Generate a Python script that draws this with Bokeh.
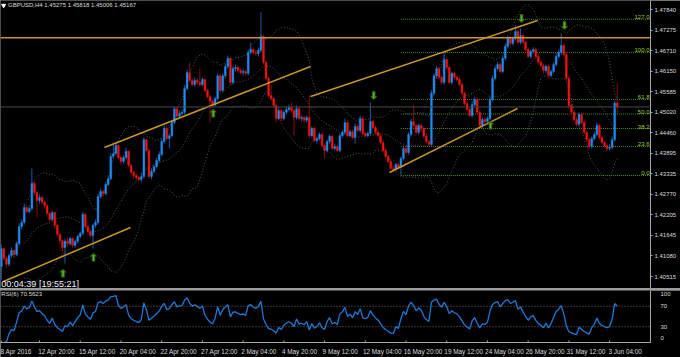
import numpy as np
import pandas as pd
from bokeh.plotting import figure
from bokeh.models import (Range1d, ColumnDataSource, FixedTicker, NumeralTickFormatter,
                          Label, Span)
from bokeh.layouts import column
from bokeh.embed import file_html
from bokeh.resources import INLINE
from bokeh.core.properties import value

# ---------------- data ----------------
symbol_title = "GBPUSD,H4  1.45275 1.45818 1.45006 1.45167"
rsi_title = "RSI(6) 70.5623"
timer_text = "00:04:39 [19:55:21]"

first_open = 1.4079
closes = [
    1.4128, 1.4101, 1.4085, 1.4109, 1.4123, 1.4112, 1.4142, 1.4189, 1.4200, 1.4241,
    1.4230, 1.4238, 1.4307, 1.4282, 1.4260, 1.4268, 1.4255, 1.4246, 1.4225, 1.4208,
    1.4227, 1.4192, 1.4167, 1.4150, 1.4131, 1.4148, 1.4142, 1.4156, 1.4137, 1.4148,
    1.4161, 1.4170, 1.4222, 1.4189, 1.4175, 1.4164, 1.4192, 1.4200, 1.4271, 1.4285,
    1.4279, 1.4304, 1.4320, 1.4381, 1.4389, 1.4411, 1.4378, 1.4367, 1.4378, 1.4395,
    1.4356, 1.4337, 1.4329, 1.4323, 1.4318, 1.4326, 1.4427, 1.4397, 1.4326, 1.4340,
    1.4353, 1.4370, 1.4386, 1.4422, 1.4458, 1.4430, 1.4438, 1.4474, 1.4512, 1.4491,
    1.4499, 1.4502, 1.4567, 1.4611, 1.4589, 1.4578, 1.4589, 1.4584, 1.4578, 1.4592,
    1.4562, 1.4545, 1.4532, 1.4523, 1.4540, 1.4602, 1.4562, 1.4602, 1.4628, 1.4650,
    1.4584, 1.4622, 1.4625, 1.4617, 1.4611, 1.4614, 1.4609, 1.4666, 1.4674, 1.4666,
    1.4663, 1.4672, 1.4710, 1.4639, 1.4595, 1.4548, 1.4540, 1.4521, 1.4485, 1.4507,
    1.4485, 1.4502, 1.4510, 1.4515, 1.4507, 1.4488, 1.4512, 1.4485, 1.4488, 1.4480,
    1.4488, 1.4438, 1.4458, 1.4425, 1.4430, 1.4441, 1.4411, 1.4397, 1.4422, 1.4436,
    1.4403, 1.4408, 1.4397, 1.4438, 1.4447, 1.4474, 1.4438, 1.4449, 1.4433, 1.4463,
    1.4452, 1.4485, 1.4444, 1.4438, 1.4444, 1.4477, 1.4460, 1.4447, 1.4438, 1.4419,
    1.4397, 1.4381, 1.4367, 1.4348, 1.4345, 1.4359, 1.4351, 1.4375, 1.4403, 1.4392,
    1.4441, 1.4477, 1.4466, 1.4447, 1.4466, 1.4458, 1.4436, 1.4422, 1.4414, 1.4554,
    1.4602, 1.4622, 1.4598, 1.4584, 1.4647, 1.4625, 1.4584, 1.4609, 1.4598, 1.4592,
    1.4578, 1.4554, 1.4526, 1.4510, 1.4493, 1.4523, 1.4537, 1.4502, 1.4466, 1.4482,
    1.4477, 1.4485, 1.4537, 1.4595, 1.4622, 1.4633, 1.4614, 1.4650, 1.4683, 1.4705,
    1.4691, 1.4705, 1.4724, 1.4694, 1.4713, 1.4694, 1.4674, 1.4655, 1.4669, 1.4674,
    1.4655, 1.4639, 1.4630, 1.4617, 1.4628, 1.4603, 1.4614, 1.4633, 1.4655, 1.4666,
    1.4685, 1.4661, 1.4595, 1.4521, 1.4502, 1.4482, 1.4469, 1.4496, 1.4474, 1.4447,
    1.4427, 1.4408, 1.4430, 1.4441, 1.4466, 1.4433, 1.4419, 1.4411, 1.4403, 1.4406,
    1.4427, 1.45275, 1.45167,
]
highs = [
    1.4139, 1.4131, 1.4107, 1.4115, 1.4131, 1.4126, 1.4148, 1.4197, 1.4208, 1.4252,
    1.4246, 1.4246, 1.4348, 1.4312, 1.4288, 1.4277, 1.4274, 1.4260, 1.4252, 1.4230,
    1.4233, 1.4230, 1.4194, 1.4172, 1.4153, 1.4156, 1.4159, 1.4161, 1.4159, 1.4153,
    1.4167, 1.4175, 1.4230, 1.4227, 1.4194, 1.4181, 1.4197, 1.4208, 1.4279, 1.4293,
    1.4290, 1.4310, 1.4329, 1.4389, 1.4419, 1.4419, 1.4414, 1.4384, 1.4384, 1.4406,
    1.4397, 1.4362, 1.4342, 1.4334, 1.4329, 1.4337, 1.4433, 1.4430, 1.4403, 1.4348,
    1.4359, 1.4378, 1.4395, 1.4430, 1.4466, 1.4463, 1.4444, 1.4480, 1.4518, 1.4515,
    1.4507, 1.4510, 1.4576, 1.4619, 1.4639, 1.4595, 1.4598, 1.4595, 1.4622, 1.4598,
    1.4595, 1.4567, 1.4551, 1.4537, 1.4545, 1.4609, 1.4606, 1.4609, 1.4636, 1.4658,
    1.4652, 1.4628, 1.4633, 1.4630, 1.4622, 1.4622, 1.4619, 1.4674, 1.4694, 1.4680,
    1.4674, 1.4680, 1.4776, 1.4715, 1.4644, 1.4600, 1.4576, 1.4545, 1.4526, 1.4515,
    1.4512, 1.4507, 1.4518, 1.4523, 1.4529, 1.4512, 1.4521, 1.4518, 1.4493, 1.4493,
    1.4493, 1.4548, 1.4463, 1.4463, 1.4436, 1.4447, 1.4447, 1.4416, 1.4427, 1.4441,
    1.4441, 1.4416, 1.4414, 1.4444, 1.4452, 1.4485, 1.4480, 1.4455, 1.4455, 1.4471,
    1.4469, 1.4493, 1.4491, 1.4449, 1.4449, 1.4529, 1.4482, 1.4466, 1.4452, 1.4444,
    1.4425, 1.4403, 1.4386, 1.4373, 1.4356, 1.4364, 1.4364, 1.4381, 1.4408, 1.4411,
    1.4447, 1.4485, 1.4521, 1.4471, 1.4471, 1.4471, 1.4463, 1.4444, 1.4427, 1.4562,
    1.4609, 1.4630, 1.4628, 1.4603, 1.4666, 1.4652, 1.4630, 1.4614, 1.4614, 1.4603,
    1.4598, 1.4584, 1.4559, 1.4532, 1.4515, 1.4532, 1.4545, 1.4543, 1.4507, 1.4488,
    1.4488, 1.4491, 1.4545, 1.4603, 1.4630, 1.4641, 1.4639, 1.4658, 1.4691, 1.4713,
    1.4710, 1.4710, 1.4740, 1.4729, 1.4732, 1.4718, 1.4699, 1.4680, 1.4674, 1.4680,
    1.4680, 1.4661, 1.4644, 1.4636, 1.4633, 1.4633, 1.4619, 1.4639, 1.4663, 1.4674,
    1.4718, 1.4691, 1.4666, 1.4600, 1.4526, 1.4507, 1.4488, 1.4502, 1.4502, 1.4480,
    1.4452, 1.4433, 1.4436, 1.4449, 1.4474, 1.4471, 1.4438, 1.4425, 1.4416, 1.4414,
    1.4436, 1.4534, 1.45818,
]
lows = [
    1.4043, 1.4096, 1.4074, 1.4079, 1.4104, 1.4104, 1.4107, 1.4137, 1.4181, 1.4194,
    1.4225, 1.4225, 1.4233, 1.4274, 1.4214, 1.4252, 1.4249, 1.4238, 1.4219, 1.4200,
    1.4203, 1.4183, 1.4161, 1.4142, 1.4118, 1.4087, 1.4134, 1.4137, 1.4131, 1.4131,
    1.4142, 1.4156, 1.4164, 1.4183, 1.4170, 1.4159, 1.4128, 1.4186, 1.4194, 1.4266,
    1.4271, 1.4274, 1.4299, 1.4315, 1.4375, 1.4384, 1.4373, 1.4359, 1.4362, 1.4373,
    1.4351, 1.4331, 1.4320, 1.4315, 1.4312, 1.4310, 1.4320, 1.4392, 1.4320, 1.4318,
    1.4334, 1.4348, 1.4364, 1.4381, 1.4416, 1.4425, 1.4403, 1.4433, 1.4469, 1.4485,
    1.4485, 1.4493, 1.4496, 1.4562, 1.4584, 1.4573, 1.4573, 1.4578, 1.4573, 1.4573,
    1.4556, 1.4540, 1.4474, 1.4518, 1.4518, 1.4534, 1.4556, 1.4556, 1.4595, 1.4622,
    1.4578, 1.4578, 1.4614, 1.4611, 1.4606, 1.4603, 1.4603, 1.4603, 1.4661, 1.4661,
    1.4658, 1.4655, 1.4666, 1.4633, 1.4589, 1.4543, 1.4534, 1.4515, 1.4474, 1.4480,
    1.4477, 1.4480, 1.4496, 1.4504, 1.4502, 1.4439, 1.4482, 1.4480, 1.4477, 1.4474,
    1.4474, 1.4430, 1.4433, 1.4419, 1.4416, 1.4425, 1.4406, 1.4375, 1.4392, 1.4416,
    1.4397, 1.4397, 1.4392, 1.4392, 1.4433, 1.4441, 1.4433, 1.4433, 1.4427, 1.4416,
    1.4447, 1.4447, 1.4438, 1.4433, 1.4433, 1.4438, 1.4455, 1.4441, 1.4433, 1.4414,
    1.4392, 1.4375, 1.4362, 1.4342, 1.4337, 1.4340, 1.4345, 1.4329, 1.4370, 1.4386,
    1.4386, 1.4436, 1.4460, 1.4441, 1.4441, 1.4449, 1.4430, 1.4416, 1.4408, 1.4408,
    1.4548, 1.4595, 1.4592, 1.4578, 1.4578, 1.4619, 1.4578, 1.4578, 1.4592, 1.4587,
    1.4573, 1.4548, 1.4521, 1.4504, 1.4488, 1.4488, 1.4518, 1.4496, 1.4458, 1.4460,
    1.4471, 1.4469, 1.4480, 1.4532, 1.4589, 1.4617, 1.4609, 1.4609, 1.4644, 1.4677,
    1.4685, 1.4685, 1.4699, 1.4688, 1.4688, 1.4688, 1.4669, 1.4650, 1.4650, 1.4663,
    1.4650, 1.4633, 1.4625, 1.4609, 1.4609, 1.4598, 1.4598, 1.4609, 1.4628, 1.4650,
    1.4661, 1.4655, 1.4589, 1.4512, 1.4496, 1.4477, 1.4463, 1.4463, 1.4469, 1.4441,
    1.4422, 1.4403, 1.4403, 1.4425, 1.4436, 1.4427, 1.4414, 1.4406, 1.4395, 1.4397,
    1.4400, 1.4422, 1.45006,
]

date_bars = [1, 16, 32, 48, 64, 80, 96, 112, 128, 144, 160, 176, 192, 208, 224, 240]
date_labels = ["8 Apr 2016", "12 Apr 20:00", "15 Apr 12:00", "20 Apr 04:00",
               "22 Apr 20:00", "27 Apr 12:00", "2 May 04:00", "4 May 20:00",
               "9 May 12:00", "12 May 04:00", "16 May 20:00", "19 May 12:00",
               "24 May 04:00", "26 May 20:00", "31 May 12:00", "3 Jun 04:00"]
price_ticks = [1.40515, 1.41080, 1.41645, 1.42205, 1.42770, 1.43335, 1.43895,
               1.44460, 1.45020, 1.45585, 1.46150, 1.46710, 1.47275, 1.47840]
rsi_period = 6
rsi_levels = [30, 70]
rsi_tick_pos = [8, 30, 70, 94]
rsi_tick_text = ["0", "30", "70", "100"]

resistance_price = 1.47066
bid_price = 1.45167

fib_ratios = [0.0, 23.6, 38.2, 50.0, 61.8, 100.0, 127.0]
fib_start_bar, fib_low = 158, 1.43287
fib_end_bar, fib_high = 175, 1.46661

trend_x0 = [1.85, 41.5, 122.5, 153.5]
trend_y0 = [1.4038, 1.44055, 1.45454, 1.43369]
trend_x1 = [51.75, 122.5, 211.7, 203.8]
trend_y1 = [1.4186, 1.46277, 1.47538, 1.45125]

up_arrow_bar = [25.2, 37.2, 84.2, 193.2]
up_arrow_price = [1.40600, 1.41030, 1.44987, 1.44658]
down_arrow_bar = [147.3, 205.4, 222.3]
down_arrow_price = [1.45481, 1.47593, 1.47401]

view_start, view_end = 0.668, 256.07
px_per_bar = 2.545          # horizontal scale of the chart (pixels per bar)
date_char_px = 2.75         # approx. width of one date-label character

# ---------------- derived ----------------
df = pd.DataFrame({"bar": np.arange(1, len(closes) + 1), "close": closes,
                   "high": highs, "low": lows})
df["open"] = [first_open] + closes[:-1]
df["top"] = df[["open", "close"]].max(axis=1)
df["bottom"] = df[["open", "close"]].min(axis=1)
up = df["close"] >= df["open"]
df["body"] = np.where(up, "#1e8cf0", "#f01414")
df["wick"] = np.where(up, "#1a5aa6", "#8c0c0c")

mid = df["close"].rolling(20, min_periods=10).mean()
sd = df["close"].rolling(20, min_periods=10).std(ddof=0)
df["bb_mid"], df["bb_up"], df["bb_lo"] = mid, mid + 2 * sd, mid - 2 * sd

delta = df["close"].diff()
gain = delta.clip(lower=0)
loss = (-delta).clip(lower=0)
ag = gain.ewm(alpha=1 / rsi_period, adjust=False).mean()
al = loss.ewm(alpha=1 / rsi_period, adjust=False).mean()
df["rsi"] = 100 - 100 / (1 + ag / al)

src = ColumnDataSource(df)

FONT = "Liberation Sans"
TXT = "#dcdcdc"
AXIS = "#a8a8a8"
GOLD = "#c8962c"

# ---------------- main chart ----------------
p = figure(width=680, height=288, x_range=Range1d(view_start, view_end),
           y_range=Range1d(1.40187, 1.48087), output_backend="svg",
           toolbar_location=None, x_axis_location=None, y_axis_location="right",
           min_border_left=0, min_border_right=30, min_border_top=0, min_border_bottom=0,
           background_fill_color="black", border_fill_color="black",
           outline_line_color=None)
p.grid.visible = False
ya = p.yaxis[0]
ya.ticker = FixedTicker(ticks=price_ticks)
ya.formatter = NumeralTickFormatter(format="0.00000")
ya.major_label_text_font = FONT
ya.major_label_text_font_size = "6px"
ya.major_label_text_color = TXT
ya.axis_line_color = AXIS
ya.major_tick_line_color = AXIS
ya.major_tick_out = 2
ya.major_tick_in = 0
ya.minor_tick_line_color = None
ya.major_label_standoff = 2

# Bollinger bands
for col in ["bb_up", "bb_mid", "bb_lo"]:
    p.line("bar", col, source=src, line_color="#575757", line_width=1, line_dash="1 2")

# horizontal lines
p.add_layout(Span(location=bid_price, dimension="width", line_color="#4a4a4a", line_width=1))
p.add_layout(Span(location=resistance_price, dimension="width", line_color=GOLD, line_width=1.5))

# fibonacci
fib_prices = [fib_low + r / 100.0 * (fib_high - fib_low) for r in fib_ratios]
fib_src = ColumnDataSource(dict(x0=[fib_start_bar] * len(fib_ratios), x1=[view_end] * len(fib_ratios),
                                y=fib_prices, txt=["%.1f" % r for r in fib_ratios],
                                xt=[view_end - 0.4] * len(fib_ratios)))
p.segment(x0="x0", y0="y", x1="x1", y1="y", source=fib_src, line_color="#4c8a1c",
          line_width=1, line_dash="1 1")
p.line([fib_start_bar, fib_end_bar], [fib_low, fib_high], line_color="#7a1a1a",
       line_width=1, line_dash="1 2")
p.text(x="xt", y="y", text="txt", source=fib_src, text_align="right", text_baseline="bottom",
       text_color="#9ad03c", text_font_size="6px", text_font=value(FONT))

# candles
p.segment(x0="bar", y0="low", x1="bar", y1="high", source=src, line_color="wick", line_width=1)
p.vbar(x="bar", width=0.72, top="top", bottom="bottom", source=src,
       fill_color="body", line_color="body", line_width=0.4)

# trend lines
p.segment(x0=trend_x0, y0=trend_y0, x1=trend_x1, y1=trend_y1, line_color=GOLD, line_width=1.5)

# arrows
p.text(x=up_arrow_bar, y=up_arrow_price, text=["\u2b06"] * len(up_arrow_bar),
       text_align="center", text_baseline="middle", text_color="#6cc832",
       text_outline_color="#2f6a12", text_font_size="10px", text_font=value("DejaVu Sans"))
p.text(x=down_arrow_bar, y=down_arrow_price, text=["\u2b07"] * len(down_arrow_bar),
       text_align="center", text_baseline="middle", text_color="#6cc832",
       text_outline_color="#2f6a12", text_font_size="10px", text_font=value("DejaVu Sans"))

# texts
p.scatter(x=[1.9], y=[1.47950], marker="inverted_triangle", size=4, color="white")
p.add_layout(Label(x=3.6, y=1.47950, text=symbol_title, text_font=FONT, text_font_size="6px",
                   text_color=TXT, text_baseline="middle"))
p.add_layout(Label(x=1.0, y=1.40324, text=timer_text, text_font=FONT, text_font_size="9px",
                   text_color="#f0f0f0", text_baseline="middle"))
p.add_layout(Label(x=view_end, y=resistance_price, x_offset=2, text="%.5f" % resistance_price,
                   text_font=FONT, text_font_size="6px", text_color="black",
                   text_baseline="middle", background_fill_color=GOLD, padding=1))
p.add_layout(Label(x=view_end, y=bid_price, x_offset=2, text="%.5f" % bid_price,
                   text_font=FONT, text_font_size="6px", text_color="black",
                   text_baseline="middle", background_fill_color="white", padding=1))

# ---------------- RSI panel ----------------
r = figure(width=680, height=67, x_range=p.x_range, y_range=Range1d(-0.9, 100.9),
           output_backend="svg", toolbar_location=None, y_axis_location="right",
           min_border_left=0, min_border_right=30, min_border_top=0, min_border_bottom=11,
           background_fill_color="black", border_fill_color="black", outline_line_color=None)
r.grid.visible = False
ra = r.yaxis[0]
ra.ticker = FixedTicker(ticks=rsi_tick_pos)
ra.major_label_overrides = dict(zip(rsi_tick_pos, rsi_tick_text))
ra.major_label_text_font = FONT
ra.major_label_text_font_size = "6px"
ra.major_label_text_color = TXT
ra.axis_line_color = AXIS
ra.major_tick_line_color = None
ra.minor_tick_line_color = None
ra.major_label_standoff = 4

# MT4 writes each time label just to the right of its bar: centre each label there
label_centres = [b + 0.5 * (date_char_px * len(t) + 1) / px_per_bar
                 for b, t in zip(date_bars, date_labels)]
xa = r.xaxis[0]
xa.ticker = FixedTicker(ticks=label_centres)
xa.major_label_overrides = dict(zip(label_centres, date_labels))
xa.major_label_text_font = FONT
xa.major_label_text_font_size = "6.4px"
xa.major_label_text_color = TXT
xa.axis_line_color = AXIS
xa.major_tick_line_color = None
xa.major_tick_out = 2
xa.major_tick_in = 0
xa.minor_tick_line_color = None
xa.major_label_standoff = 3

# small time-tick marks at the bars themselves
r.segment(x0=date_bars, x1=date_bars, y0=[-0.9] * len(date_bars), y1=[3.0] * len(date_bars),
          line_color=AXIS, line_width=1)

for lv in rsi_levels:
    r.add_layout(Span(location=lv, dimension="width", line_color="#6e6e6e",
                      line_width=1, line_dash="1 2"))
r.line("bar", "rsi", source=src, line_color="#1e78d8", line_width=1.3)
r.add_layout(Label(x=1.0, y=93.5, text=rsi_title, text_font=FONT, text_font_size="6px",
                   text_color=TXT, text_baseline="middle"))

layout = column(p, r, spacing=2, styles={"background-color": "#9a9a9a"})

open("out.html", "w").write(file_html(layout, INLINE))
